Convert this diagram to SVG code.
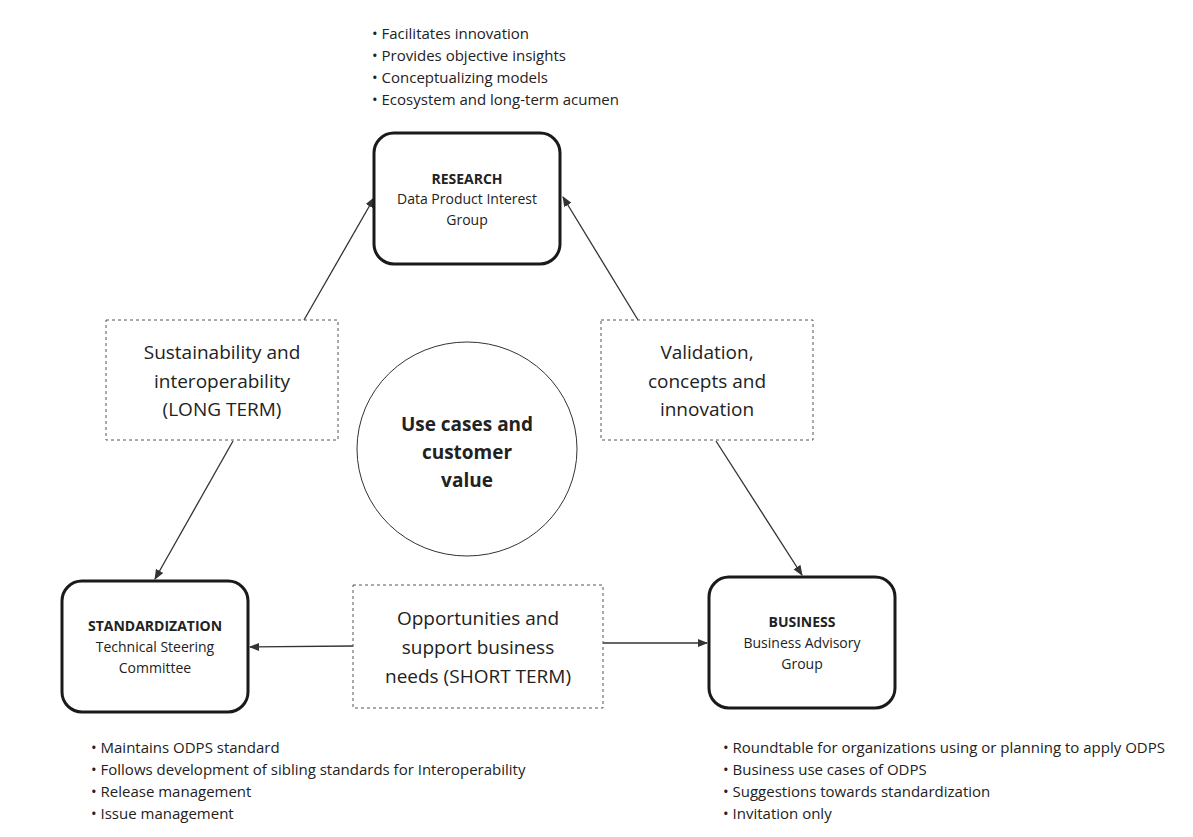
<svg xmlns="http://www.w3.org/2000/svg" width="1193" height="837" viewBox="0 0 1193 837">
<defs>
<marker id="ah" viewBox="0 0 10 10" refX="9" refY="5" markerWidth="8" markerHeight="8" orient="auto-start-reverse"><path d="M0,1 L10,5 L0,9 z" fill="#333"/></marker>
<style>
text{font-family:"Open Sans","Noto Sans",sans-serif;fill:#222}
.node{fill:#fff;stroke:#1a1a1a;stroke-width:3}
.dash{fill:#fff;stroke:#555;stroke-width:1;stroke-dasharray:3,3}
.t{font-size:14px;font-weight:bold;text-anchor:middle}
.s{font-size:14px;text-anchor:middle}
.l{font-size:19px;text-anchor:middle}
.b{font-size:15px}
.c{stroke:#333;stroke-width:1.3;fill:none;marker-end:url(#ah)}
</style>
</defs>
<rect width="1193" height="837" fill="#fff"/>
<g id="connectors">
<line class="c" x1="304" y1="320" x2="374" y2="198"/>
<line class="c" x1="638" y1="320" x2="563" y2="197"/>
<line class="c" x1="233" y1="441" x2="155" y2="579"/>
<line class="c" x1="716" y1="441" x2="802" y2="575"/>
<line class="c" x1="353" y1="646" x2="250" y2="647"/>
<line class="c" x1="603" y1="643" x2="707" y2="643"/>
</g>
<g id="research">
<rect class="node" x="374" y="133" width="186" height="131" rx="20"/>
<text class="t" x="467" y="184">RESEARCH</text>
<text class="s" x="467" y="204">Data Product Interest</text>
<text class="s" x="467" y="225">Group</text>
</g>
<g id="standardization">
<rect class="node" x="62" y="581" width="186" height="131" rx="20"/>
<text class="t" x="155" y="631">STANDARDIZATION</text>
<text class="s" x="155" y="652">Technical Steering</text>
<text class="s" x="155" y="673">Committee</text>
</g>
<g id="business">
<rect class="node" x="709" y="577" width="186" height="131" rx="20"/>
<text class="t" x="802" y="627">BUSINESS</text>
<text class="s" x="802" y="648">Business Advisory</text>
<text class="s" x="802" y="669">Group</text>
</g>
<g id="center">
<ellipse cx="467" cy="449" rx="110" ry="107" fill="#fff" stroke="#333" stroke-width="1"/>
<text class="l" x="467" y="431" font-weight="bold">Use cases and</text>
<text class="l" x="467" y="459" font-weight="bold">customer</text>
<text class="l" x="467" y="487" font-weight="bold">value</text>
</g>
<g id="longterm">
<rect class="dash" x="106" y="320" width="232" height="120"/>
<text class="l" x="222" y="359">Sustainability and</text>
<text class="l" x="222" y="388">interoperability</text>
<text class="l" x="222" y="416">(LONG TERM)</text>
</g>
<g id="validation">
<rect class="dash" x="601" y="320" width="212" height="120"/>
<text class="l" x="707" y="359">Validation,</text>
<text class="l" x="707" y="388">concepts and</text>
<text class="l" x="707" y="416">innovation</text>
</g>
<g id="shortterm">
<rect class="dash" x="353" y="585" width="250" height="123"/>
<text class="l" x="478" y="625">Opportunities and</text>
<text class="l" x="478" y="654">support business</text>
<text class="l" x="478" y="683">needs (SHORT TERM)</text>
</g>
<g id="research-notes" class="b">
<text x="372" y="39">•   Facilitates innovation</text>
<text x="372" y="61">•   Provides objective insights</text>
<text x="372" y="83">•   Conceptualizing models</text>
<text x="372" y="105">•   Ecosystem and long-term acumen</text>
</g>
<g id="standard-notes" class="b">
<text x="91" y="753">•   Maintains ODPS standard</text>
<text x="91" y="775">•   Follows development of sibling standards for Interoperability</text>
<text x="91" y="797">•   Release management</text>
<text x="91" y="819">•   Issue management</text>
</g>
<g id="business-notes" class="b">
<text x="723" y="753">•   Roundtable for organizations using or planning to apply ODPS</text>
<text x="723" y="775">•   Business use cases of ODPS</text>
<text x="723" y="797">•   Suggestions towards standardization</text>
<text x="723" y="819">•   Invitation only</text>
</g>
</svg>
